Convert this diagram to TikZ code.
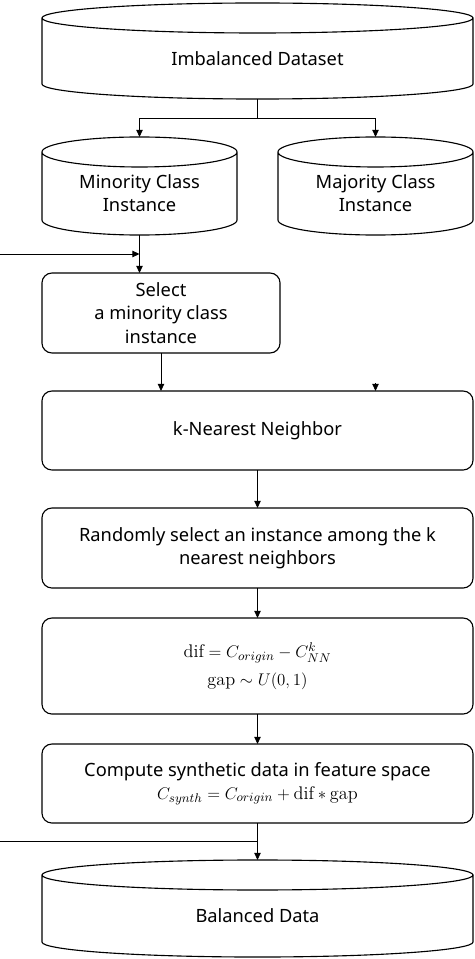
\documentclass[tikz,border=0pt]{standalone}
\usepackage{amsmath}
\usepackage{fontspec}
\setsansfont{Noto Sans}
\usepackage{tikz}
\usetikzlibrary{arrows.meta, positioning}

\begin{document}
\begin{tikzpicture}[x=0.025cm,y=-0.025cm,
          font=\sffamily\fontsize{13}{16.5}\selectfont,
          db/.style={outer sep=0pt,align=center},
          box/.style={draw,rounded corners=0.25cm,line width=0.8pt,
                      outer sep=0pt,align=center,minimum width=10.775cm},
          arr/.style={line width=0.6pt,-{Triangle[width=4.5pt,length=5pt]}}]
        \useasboundingbox (0,0) rectangle (474,959);
        \node[db,minimum width=10.775cm,minimum height=2.025cm](imb) at (257.5,58.5){Imbalanced Dataset};
        \node[db,minimum width=4.875cm,minimum height=2.075cm](minor) at (139.5,193.5){Minority Class\\Instance};
        \node[db,minimum width=4.875cm,minimum height=2.075cm](major) at (375.5,193.5){Majority Class\\Instance};
        \node[box,minimum width=5.95cm,minimum height=2cm](sel) at (161,313){Select\\a minority class\\instance};
        \node[box,minimum height=1.975cm](knn) at (257.5,430.5){k-Nearest Neighbor};
        \node[box,minimum height=2cm](rnd) at (257.5,548){Randomly select an instance among the k\\nearest neighbors};
        \node[box,minimum height=2.4cm](dif) at (257.5,666){$\mathrm{dif}=C_{origin}-C_{NN}^{k}$\\[3pt]$\mathrm{gap}\sim U(0,1)$};
        \node[box,minimum height=1.975cm](synth) at (257.5,783.5){Compute synthetic data in feature space\\$C_{synth}=C_{origin}+\mathrm{dif}*\mathrm{gap}$};
        \node[db,minimum width=10.775cm,minimum height=2.05cm](bal) at (257.5,916){Balanced Data};
        % cylinder outlines round the data nodes
        \foreach \n/\rx in {imb/5.3875cm,minor/2.4375cm,major/2.4375cm,bal/5.3875cm}{
          \draw[line width=0.8pt](\n.north) ellipse [x radius=\rx,y radius=0.375cm]
            (\n.north west)--([yshift=0.375cm]\n.south west)
            arc [start angle=180,end angle=360,x radius=\rx,y radius=0.375cm]
            --(\n.north east);
        }
        % split into the two classes
        \coordinate (split) at (257.5,118);
        \draw[line width=0.6pt](imb.south)--(split);
        \draw[arr](split)-|([yshift=0.375cm]minor.north);
        \draw[arr](split)-|([yshift=0.375cm]major.north);
        % loop lines from the left
        \coordinate (loopin) at (0,254);
        \coordinate (loopout) at (0,841);
        \draw[arr](loopin)--(loopin-|minor.south);
        \draw[line width=0.6pt](loopout)--(loopout-|synth.south);
        \draw[arr](minor.south)--(minor.south|-sel.north);
        \draw[arr](sel.south)--(sel.south|-knn.north);
        \coordinate (majtip) at (375.5,383);
        \draw[arr](majtip)--(majtip|-knn.north);
        \draw[arr](knn)--(rnd);
        \draw[arr](rnd)--(dif);
        \draw[arr](dif)--(synth);
        \draw[arr](synth)--([yshift=0.375cm]bal.north);
      \end{tikzpicture}
\end{document}
